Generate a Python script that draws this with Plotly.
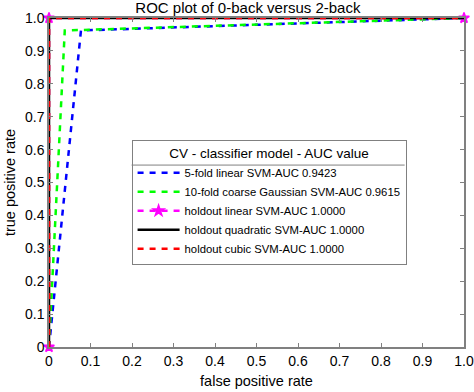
import plotly.graph_objects as go

# ---- data ----
fpr_5fold_linear = [0, 0.077, 1.0]
tpr_5fold_linear = [0, 0.962, 1.0]
fpr_10fold_gauss = [0, 0.038, 1.0]
tpr_10fold_gauss = [0, 0.962, 1.0]
fpr_holdout = [0, 0, 1.0]
tpr_holdout = [0, 1.0, 1.0]

names = [
    "5-fold linear SVM-AUC 0.9423",
    "10-fold coarse Gaussian SVM-AUC 0.9615",
    "holdout linear SVM-AUC 1.0000",
    "holdout quadratic SVM-AUC 1.0000",
    "holdout cubic SVM-AUC 1.0000",
]
tick_vals = [0, 0.1, 0.2, 0.3, 0.4, 0.5, 0.6, 0.7, 0.8, 0.9, 1.0]
tick_text = ["0", "0.1", "0.2", "0.3", "0.4", "0.5", "0.6", "0.7", "0.8", "0.9", "1.0"]

FONT = "Liberation Sans, Arial, Helvetica, sans-serif"
AX = "#808080"

fig = go.Figure()
fig.add_trace(go.Scatter(x=fpr_5fold_linear, y=tpr_5fold_linear, mode="lines", name=names[0],
                         line=dict(color="#0000ff", width=2.5, dash="6px,6px"), cliponaxis=False))
fig.add_trace(go.Scatter(x=fpr_10fold_gauss, y=tpr_10fold_gauss, mode="lines", name=names[1],
                         line=dict(color="#00ff00", width=2.5, dash="6px,6px"), cliponaxis=False))
fig.add_trace(go.Scatter(x=fpr_holdout, y=tpr_holdout, mode="lines+markers", name=names[2],
                         line=dict(color="#ff00ff", width=2.5, dash="6px,6px"),
                         marker=dict(symbol="star", size=8, color="#ff00ff",
                                     line=dict(color="#ff00ff", width=1.5)),
                         cliponaxis=False))
fig.add_trace(go.Scatter(x=fpr_holdout, y=tpr_holdout, mode="lines", name=names[3],
                         line=dict(color="#000000", width=2.5), cliponaxis=False))
fig.add_trace(go.Scatter(x=fpr_holdout, y=tpr_holdout, mode="lines", name=names[4],
                         line=dict(color="#ff0000", width=2.5, dash="6px,6px"), cliponaxis=False))

axis_common = dict(
    range=[0, 1], tickvals=tick_vals, ticktext=tick_text, automargin=False,
    showgrid=False, zeroline=False, showline=True, linecolor=AX, linewidth=1.5,
    mirror="ticks", ticks="inside", ticklen=4, tickcolor=AX, tickwidth=1,
    tickfont=dict(size=14, color="#000", family=FONT),
)
fig.update_xaxes(**axis_common, title=dict(text="false positive rate", font=dict(size=14.5, family=FONT, color="#000"), standoff=8))
fig.update_yaxes(**axis_common, title=dict(text="true positive rate", font=dict(size=14.5, family=FONT, color="#000"), standoff=6))

leg_x0, leg_y0 = 0.199, 0.63
fig.update_layout(
    width=474, height=392,
    margin=dict(l=49, r=10, t=18, b=45),
    paper_bgcolor="white", plot_bgcolor="white",
    font=dict(family=FONT, color="#000"),
    title=dict(text="ROC plot of 0-back versus 2-back", x=0.523, xanchor="center",
               y=0.993, yanchor="top", font=dict(size=15, family=FONT, color="#000")),
    legend=dict(
        x=leg_x0, y=leg_y0, xanchor="left", yanchor="top",
        bgcolor="rgba(0,0,0,0)", bordercolor=AX, borderwidth=1,
        font=dict(size=11.3, family=FONT, color="#000"),
        itemwidth=42,
        title=dict(text="CV - classifier model - AUC value", side="top center",
                   font=dict(size=13.5, family=FONT, color="#000")),
        tracegroupgap=0,
    ),
)
# white backing for the legend (legend itself transparent so the separator shows)
fig.add_shape(type="rect", xref="paper", yref="paper", layer="above",
              x0=0.2, x1=0.855, y0=0.25, y1=0.627,
              fillcolor="white", line=dict(width=0))
# separator line under legend title
fig.add_shape(type="line", xref="paper", yref="paper", layer="above",
              x0=0.199, x1=0.857, y0=0.553, y1=0.553,
              line=dict(color=AX, width=1))

fig.write_html("out.html", config={"displayModeBar": False},
               post_script="document.body.style.margin='0';document.body.style.padding='0';")
